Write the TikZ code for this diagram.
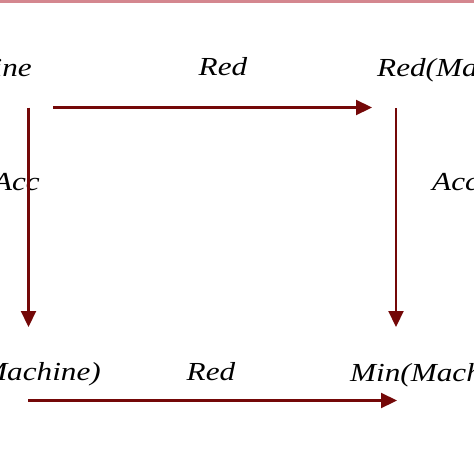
\documentclass[tikz,border=0pt]{standalone}
\usepackage{fontspec}
\setmainfont{Liberation Serif}[FakeStretch=1.2]
\usetikzlibrary{arrows.meta}
\definecolor{arr}{HTML}{740808}
\definecolor{topline}{HTML}{D4878F}
\tikzset{
  lbl/.style={inner sep=0pt,font=\fontsize{26}{30}\selectfont\itshape},
  arrowline/.style={draw=arr,line width=2.2pt,-{Triangle[length=16pt,width=15pt]}}
}
\begin{document}
\begin{tikzpicture}[x=1pt,y=-1pt]
\useasboundingbox (0,0) rectangle (474,474);
\fill[white] (0,0) rectangle (474,474);
\fill[topline] (0,0) rectangle (474,2.5);
\node[lbl,anchor=base east] (m1) at (32,76) {Machine};
\node[lbl,anchor=base] (r1) at (223,75) {Red};
\node[lbl,anchor=base west] (rm) at (377,76) {Red(Machine)};
\node[lbl,anchor=base east] (a1) at (40,190) {Acc};
\node[lbl,anchor=base west] (a2) at (432,190) {Acc};
\node[lbl,anchor=base east] (am) at (101,380) {(Machine)};
\node[lbl,anchor=base] (r2) at (211,380) {Red};
\node[lbl,anchor=base west] (mm) at (350,381) {Min(Machine)};
\coordinate (t1) at (53,107.5);
\coordinate (t2) at (372,107.5);
\coordinate (l1) at (28.5,107.5);
\coordinate (l2) at (28.5,327);
\coordinate (v1) at (396,108);
\coordinate (v2) at (396,327);
\coordinate (b1) at (28,400.5);
\coordinate (b2) at (397,400.5);
\draw[arrowline] (t1) -- (t2);
\draw[arrowline] (l1) -- (l2);
\draw[arrowline] (v1) -- (v2);
\draw[arrowline] (b1) -- (b2);
\end{tikzpicture}
\end{document}
